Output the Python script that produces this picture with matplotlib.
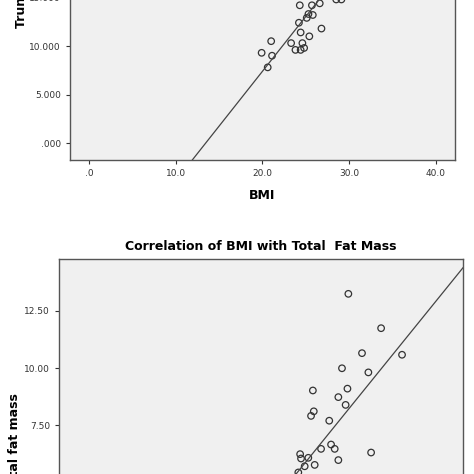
import matplotlib
matplotlib.use("Agg")
import matplotlib.pyplot as plt
import numpy as np

# top panel: BMI vs trunk fat mass (upper part cropped in reference)
bmi_trunk = [19.9, 20.6, 21.0, 21.1, 23.3, 23.8, 24.2, 24.3, 24.4, 24.4, 24.6, 24.8,
             25.1, 25.3, 25.4, 25.7, 25.8, 26.6, 26.8, 28.5, 29.1]
trunk_fat = [9.3, 7.8, 10.5, 9.0, 10.3, 9.6, 12.4, 14.2, 11.4, 9.6, 10.3, 9.8,
             12.9, 13.3, 11.0, 14.2, 13.2, 14.4, 11.8, 14.8, 14.8]
trunk_fit = (1.13, -15.2)

# bottom panel: BMI vs total fat mass (lower part cropped)
bmi_total = [29.6, 33.2, 31.1, 35.5, 28.9, 31.8, 25.7, 29.5, 28.5, 29.3, 25.8, 25.5,
             27.5, 27.7, 26.6, 28.1, 32.1, 24.3, 24.4, 25.2, 28.5, 24.8, 25.9, 24.1]
total_fat = [13.24, 11.74, 10.65, 10.58, 9.99, 9.81, 9.02, 9.1, 8.73, 8.39, 8.11, 7.91,
             7.70, 6.66, 6.47, 6.47, 6.31, 6.24, 6.05, 6.08, 5.98, 5.71, 5.77, 5.44]
total_fit = (0.491, -6.34)

fig = plt.figure(figsize=(4.74, 4.74), dpi=100)
bg = "#f0f0f0"

def style(ax):
    ax.set_facecolor(bg)
    for s in ax.spines.values():
        s.set_color("#555555")
        s.set_linewidth(1.0)
    ax.tick_params(labelsize=6.5, colors="#333333", length=3, direction="out")

# top axes
ax1 = fig.add_axes([70/474, 1-160/474, 385/474, 0.42])
style(ax1)
ax1.scatter(bmi_trunk, trunk_fat, s=22, facecolors="none", edgecolors="#333333", linewidths=0.9)
xs = np.array([-2.2, 42.2])
ax1.plot(xs, trunk_fit[0]*xs + trunk_fit[1], color="#444444", lw=0.9)
ax1.set_xlim(-2.2, 42.2)
ax1.set_ylim(-1.75, 14.7 + 0.42*474/9.7 - 160/9.7 - 0.1 + 0)
ax1.set_ylim(-1.75, -1.75 + 0.42*474/9.7)
ax1.set_xticks([0, 10, 20, 30, 40])
ax1.set_xticklabels([".0", "10.0", "20.0", "30.0", "40.0"])
ax1.set_yticks([0, 5, 10, 15])
ax1.set_yticklabels([".000", "5.000", "10.000", "15.000"])
ax1.set_xlabel("BMI", fontsize=9, fontweight="bold", labelpad=8)
fig.text(22/474, 1-28/474, "Trunk fat mass", rotation=90, fontsize=9,
         fontweight="bold", ha="center", va="bottom")

# bottom axes
ax2 = fig.add_axes([59/474, -0.12, 404/474, 0.454 + 0.12])
style(ax2)
ax2.scatter(bmi_total, total_fat, s=22, facecolors="none", edgecolors="#333333", linewidths=0.9)
ax2.plot(xs, total_fit[0]*xs + total_fit[1], color="#444444", lw=0.9)
ax2.set_xlim(-2.2, 42.2)
top2 = 14.77
ax2.set_ylim(top2 - (0.454 + 0.12)*474/22.9, top2)
ax2.set_yticks([5.0, 7.5, 10.0, 12.5])
ax2.set_yticklabels(["5.00", "7.50", "10.00", "12.50"])
ax2.set_xticks([])
ax2.set_title("Correlation of BMI with Total  Fat Mass", fontsize=9, fontweight="bold", pad=6)
fig.text(15/474, 1-393/474, "Total fat mass", rotation=90, fontsize=9,
         fontweight="bold", ha="center", va="top")

fig.savefig("out.png", dpi=100, facecolor="white")
